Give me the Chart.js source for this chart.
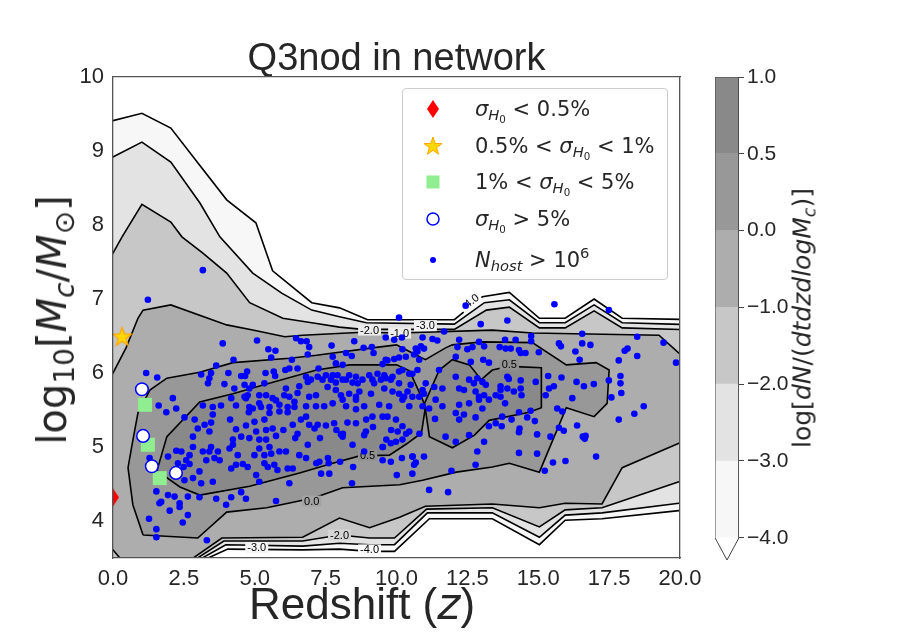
<!DOCTYPE html>
<html>
<head>
<meta charset="utf-8">
<title>Q3nod in network</title>
<script src="https://cdn.jsdelivr.net/npm/chart.js@4/dist/chart.umd.min.js"></script>
<style>
  html, body { margin:0; padding:0; background:#ffffff; }
  #wrap { position:relative; width:913px; height:640px; overflow:hidden; color:#262626; font-family:"Liberation Sans", Arial, sans-serif; }
  #mainCanvas { position:absolute; left:0; top:0; }
  #cbarCanvas { position:absolute; left:700px; top:0; }
  .lbl { position:absolute; white-space:nowrap; line-height:1; }
  #xlabel { left:362px; top:604px; transform:translate(-50%,-50%); font-size:44px; }
  #xlabel i { font-family:"DejaVu Sans", sans-serif; }
  #ylabel { left:52px; top:320px; transform:translate(-50%,-50%) rotate(-90deg); font-size:40px; font-family:"DejaVu Sans", sans-serif; }
  #cblabel { left:802px; top:318px; transform:translate(-50%,-50%) rotate(-90deg); font-size:25px; font-family:"DejaVu Sans", sans-serif; }
  .m sub { font-size:70%; vertical-align:-0.3em; line-height:0; }
  .m sup { font-size:70%; vertical-align:0.55em; line-height:0; }
  #legend { position:absolute; left:402px; top:88px; width:266px; height:192px; border:1px solid #cccccc; border-radius:4px; background:rgba(255,255,255,0.8); box-sizing:border-box; }
  .row { position:absolute; left:0; height:0; width:100%; }
  .row svg { position:absolute; left:19px; top:-11px; }
  .row .t { position:absolute; left:72px; top:0; transform:translateY(-50%); white-space:nowrap; font-family:"DejaVu Sans", sans-serif; font-size:21px; line-height:1; }
</style>
</head>
<body>
<div id="wrap">
  <canvas id="mainCanvas" width="793" height="640"></canvas>
  <canvas id="cbarCanvas" width="213" height="640"></canvas>
  <div id="xlabel" class="lbl">Redshift (<i>z</i>)</div>
  <div id="ylabel" class="lbl m">log<sub>10</sub>[<i>M</i><sub><i>c</i></sub>/<i>M</i><sub>⊙</sub>]</div>
  <div id="cblabel" class="lbl m">log[<i>dN</i>/(<i>dtdzdlogM</i><sub><i>c</i></sub>)]</div>
  <div id="legend">
    <div class="row" style="top:20px">
      <svg width="22" height="22"><polygon points="11,2 17,11 11,20 5,11" fill="#ff0000"/></svg>
      <span class="t m"><i>σ</i><sub><i>H</i><sub>0</sub></sub> &lt; 0.5%</span>
    </div>
    <div class="row" style="top:57px">
      <svg width="22" height="22"><polygon points="11,2 13.2,8.4 20,8.6 14.6,12.7 16.6,19.2 11,15.3 5.4,19.2 7.4,12.7 2,8.6 8.8,8.4" fill="#ffd700" stroke="#ffa500" stroke-width="1"/></svg>
      <span class="t m">0.5% &lt; <i>σ</i><sub><i>H</i><sub>0</sub></sub> &lt; 1%</span>
    </div>
    <div class="row" style="top:93px">
      <svg width="22" height="22"><rect x="4.5" y="4.5" width="13" height="13" fill="#90ee90"/></svg>
      <span class="t m">1% &lt; <i>σ</i><sub><i>H</i><sub>0</sub></sub> &lt; 5%</span>
    </div>
    <div class="row" style="top:130px">
      <svg width="22" height="22"><circle cx="11" cy="11" r="6" fill="#ffffff" stroke="#0000ff" stroke-width="1.5"/></svg>
      <span class="t m"><i>σ</i><sub><i>H</i><sub>0</sub></sub> &gt; 5%</span>
    </div>
    <div class="row" style="top:171px">
      <svg width="22" height="22"><circle cx="11" cy="11" r="3" fill="#0000ff"/></svg>
      <span class="t m"><i>N</i><sub><i>host</i></sub> &gt; 10<sup>6</sup></span>
    </div>
  </div>
</div>
<script>
// ---------------- ticks ----------------
const xTickValues = [0, 2.5, 5, 7.5, 10, 12.5, 15, 17.5, 20];
const xTickLabels = ['0.0','2.5','5.0','7.5','10.0','12.5','15.0','17.5','20.0'];
const yTickValues = [4, 5, 6, 7, 8, 9, 10];
const yTickLabels = ['4','5','6','7','8','9','10'];

// ---------------- colour levels ----------------
const cbLevels = [-4.0, -3.0, -2.0, -1.0, 0.0, 0.5, 1.0];
const bandColors = ['#f7f7f7','#e3e3e3','#c7c7c7','#adadad','#989898','#898989'];

// ---------------- contour boundaries  [redshift, log10 Mc] ----------------
const upperM4 = [[-0.63,9.38],[0,9.41],[1.02,9.51],[2.04,9.31],[2.99,8.84],[4.01,8.34],[5.04,8.03],[5.63,7.38],[7.01,6.95],[7.99,6.88],[8.98,6.72],[12.04,6.72],[13.03,7.03],[13.98,7.09],[15.04,6.74],[15.95,6.74],[16.97,7.00],[17.96,6.74],[20.67,6.72]];
const lowerM4 = [[-0.63,3.27],[3.06,3.27],[3.06,3.45],[4.05,3.62],[6.69,3.61],[7.99,3.62],[9.05,3.59],[9.93,3.59],[11.16,4.03],[13.38,4.03],[15.04,3.68],[15.95,4.01],[17.25,4.03],[19.96,4.14],[20.67,4.15]];
const upperM3 = [[-0.46,8.88],[0,8.92],[1.02,9.12],[2.04,8.85],[3.06,8.30],[3.77,7.84],[4.93,7.35],[5.95,7.08],[7.01,6.85],[7.99,6.76],[8.94,6.68],[12.04,6.66],[13.10,6.95],[13.98,6.99],[15.04,6.68],[15.95,6.68],[16.97,6.92],[17.96,6.68],[20.67,6.65]];
const lowerM3 = [[-0.63,3.27],[2.92,3.27],[2.92,3.45],[3.98,3.68],[6.69,3.66],[7.99,3.70],[9.05,3.68],[9.93,3.68],[11.09,4.11],[13.38,4.11],[15.04,3.78],[15.95,4.08],[17.25,4.11],[19.96,4.24],[20.67,4.27]];
const upperM2 = [[-0.46,7.39],[0,7.62],[0.32,7.84],[1.02,8.28],[2.04,8.04],[2.43,7.84],[3.17,7.62],[4.01,7.35],[4.82,6.95],[5.99,6.74],[7.01,6.68],[7.99,6.62],[8.80,6.59],[12.04,6.59],[13.17,6.85],[13.98,6.89],[15.04,6.61],[15.95,6.61],[16.97,6.84],[17.96,6.61],[20.67,6.58]];
const lowerM2 = [[-0.63,3.27],[2.78,3.27],[2.78,3.45],[3.91,3.73],[6.69,3.73],[7.99,3.81],[9.05,3.77],[9.93,3.77],[11.06,4.16],[13.38,4.18],[15.04,3.92],[15.95,4.15],[17.25,4.18],[19.96,4.53],[20.67,4.61]];
const upperM1 = [[-0.46,5.77],[0,6.00],[0.46,6.34],[0.88,6.74],[1.06,6.85],[2.04,6.92],[4.01,6.65],[4.93,6.58],[6.06,6.49],[6.69,6.51],[8.80,6.55],[10.11,6.54],[13.38,6.58],[14.79,6.54],[19.26,6.51],[19.96,6.27],[20.67,6.11]];
const lowerM1 = [[-0.63,3.74],[0,3.61],[0.35,3.45],[0.40,3.27],[2.60,3.27],[2.64,3.45],[3.84,3.77],[6.69,3.78],[7.99,4.04],[9.05,3.91],[10.11,4.05],[11.02,4.20],[13.38,4.23],[15.04,4.18],[15.95,4.24],[17.25,4.23],[17.96,4.72],[19.96,5.05],[20.67,5.16]];
const zeroContour = [[1.06,3.81],[0.70,4.22],[0.53,4.72],[0.70,5.09],[0.88,5.46],[1.30,5.77],[1.90,5.93],[3.06,6.01],[4.23,6.14],[6.23,6.20],[7.18,6.24],[9.15,6.34],[10.0,6.38],[10.35,6.31],[11.02,6.18],[11.73,6.34],[11.97,6.38],[13.03,6.42],[14.79,6.41],[15.99,6.11],[17.04,6.14],[17.50,6.04],[17.43,5.59],[16.97,5.41],[15.99,5.53],[15.04,4.66],[13.98,4.78],[13.38,4.73],[12.11,4.66],[10.92,4.55],[10.11,4.49],[8.10,4.45],[7.15,4.32],[6.69,4.28],[5.42,4.18],[4.01,4.12],[2.99,3.77],[1.06,3.81]];
const halfContourA = [[1.55,4.68],[1.90,5.14],[3.06,5.61],[4.23,5.72],[5.42,5.85],[7.18,6.04],[8.35,6.11],[10.0,6.11],[10.46,6.03],[10.92,5.64],[11.02,5.54],[10.88,5.19],[10.35,5.04],[9.75,4.89],[8.70,4.88],[7.75,4.78],[6.58,4.65],[4.82,4.47],[3.06,4.35],[2.36,4.46],[1.55,4.68]];
const halfContourB = [[10.99,5.59],[11.51,6.04],[11.97,6.18],[12.57,6.11],[12.99,5.91],[13.38,6.04],[13.98,6.09],[15.11,6.07],[15.11,5.53],[14.68,5.47],[13.27,5.36],[12.75,5.16],[11.97,4.99],[11.16,5.14],[10.99,5.59]];

// contour labels
const labelPos = [[12.60,6.96],[11.02,6.64],[10.11,6.54],[9.05,6.58],[13.98,6.11],[8.98,4.89],[7.01,4.27],[7.99,3.81],[5.07,3.64],[9.05,3.61]];
const labelText = ['-4.0','-3.0','-1.0','-2.0','0.5','0.5','0.0','-2.0','-3.0','-4.0'];
const labelRot = [-38,0,0,0,0,0,0,0,0,0];
const labelBg = ['#f9f9f9','#f2f2f2','#ececec','#ececec','#919191','#919191','#a3a3a3','#d5d5d5','#f4f4f4','#fafafa'];

// ---------------- H0 precision classes ----------------
const h0Below05 = [[0.0,4.32]];
const h0From05to1 = [[0.32,6.49]];
const h0From1to5 = [[1.13,5.57],[1.23,5.03],[1.65,4.58]];
const h0Above5 = [[1.02,5.78],[1.06,5.15],[1.37,4.74],[2.22,4.65]];

// ---------------- hosts N > 1e6 ----------------
const hostPoints = [
[3.17,7.39],[1.23,6.99],[3.87,6.40],[5.08,6.44],[5.48,6.32],[5.73,6.30],[5.58,6.21],[4.25,6.18],[6.46,6.47],[6.63,6.43],[1.17,6.00],[1.56,5.94],[3.64,6.10],[3.11,5.98],[3.46,6.00],[3.40,5.93],[4.07,6.00],[4.52,5.96],[4.73,6.02],[4.66,5.96],[5.38,6.00],[5.67,6.02],[5.72,5.96],[6.08,6.04],[6.22,6.06],[6.31,6.18],[6.51,6.06],[2.11,5.66],[1.61,5.56],[2.23,5.52],[3.17,5.56],[3.52,5.54],[3.81,5.56],[4.34,5.56],[4.17,5.66],[4.64,5.68],[4.75,5.70],[4.93,5.84],[4.81,5.79],[5.34,5.86],[5.16,5.70],[5.40,5.70],[5.63,5.66],[6.10,5.79],[6.04,5.70],[6.22,5.68],[6.16,5.54],[6.40,5.61],[6.51,5.73],[6.57,5.82],[3.35,5.86],[3.93,5.85],[4.28,5.79],[4.64,5.84],[4.69,5.66],[5.16,5.59],[4.81,5.54],[5.22,5.54],[5.52,5.54],[5.75,5.63],[5.87,5.57],[6.40,5.54],
[10.09,6.75],[12.44,6.91],[12.97,6.66],[11.68,6.56],[6.83,6.43],[8.51,6.43],[9.62,6.48],[9.92,6.45],[10.19,6.48],[10.92,6.48],[11.27,6.46],[11.44,6.44],[12.21,6.45],[12.91,6.42],[13.09,6.36],[6.92,6.35],[7.71,6.37],[8.22,6.27],[8.84,6.34],[9.13,6.35],[9.19,6.27],[10.21,6.32],[10.68,6.33],[10.74,6.29],[10.86,6.36],[10.97,6.33],[10.62,6.25],[12.15,6.35],[12.50,6.32],[12.68,6.35],[12.09,6.22],[6.87,6.25],[7.75,6.22],[8.42,6.23],[9.62,6.18],[9.92,6.19],[10.09,6.21],[10.33,6.22],[10.80,6.18],[7.86,6.13],[8.10,6.11],[9.51,6.12],[9.68,6.17],[7.25,6.06],[10.21,6.04],[10.45,5.99],[10.74,6.04],[11.50,6.04],[12.62,6.15],[13.06,6.18],[13.26,6.14],[6.81,5.95],[7.22,5.95],[7.51,5.97],[7.75,5.97],[7.92,5.97],[8.10,5.91],[8.33,5.97],[8.57,5.95],[9.04,5.97],[9.33,5.99],[9.57,5.97],[9.86,5.95],[10.09,6.02],[10.56,5.99],[8.63,5.86],[8.80,5.91],[9.15,5.91],[9.45,5.91],[9.62,5.93],[9.80,5.91],[6.87,5.88],[6.98,5.91],[7.39,5.91],[7.69,5.91],[7.86,5.87],[8.22,5.91],[8.45,5.87],[10.09,5.86],[10.50,5.84],[10.92,5.77],[11.03,5.86],[11.62,5.79],[12.09,5.95],[12.56,5.91],[12.73,5.86],[12.85,5.93],[13.03,5.88],[13.15,5.84],[6.92,5.68],[7.16,5.70],[7.57,5.81],[7.86,5.77],[8.04,5.70],[8.33,5.72],[8.57,5.68],[8.69,5.75],[9.10,5.72],[9.21,5.86],[9.57,5.79],[9.86,5.75],[10.09,5.72],[10.39,5.75],[10.56,5.68],[10.27,5.68],[10.80,5.68],[10.97,5.72],[11.33,5.81],[11.38,5.64],[12.21,5.79],[12.38,5.77],[12.79,5.75],[12.91,5.68],[13.09,5.70],[13.26,5.64],[6.81,5.55],[7.16,5.55],[7.45,5.55],[7.75,5.59],[8.10,5.64],[8.22,5.55],[8.57,5.64],[8.86,5.55],[9.39,5.57],[9.74,5.55],[10.21,5.64],[10.45,5.55],[10.92,5.55],[11.15,5.52],[11.62,5.55],[12.21,5.57],[12.56,5.59],[12.91,5.64],[13.03,5.52],
[15.57,6.93],[17.49,6.85],[13.91,6.71],[14.75,6.50],[14.75,6.43],[13.83,6.45],[14.20,6.45],[13.64,6.35],[13.85,6.33],[14.03,6.33],[14.32,6.31],[14.38,6.27],[14.55,6.27],[15.02,6.28],[15.73,6.40],[15.80,6.36],[16.55,6.53],[16.55,6.40],[16.84,6.38],[16.31,6.29],[16.46,6.18],[18.49,6.49],[19.42,6.41],[18.05,6.30],[18.15,6.33],[18.49,6.23],[17.84,6.17],[19.86,6.14],[13.91,5.95],[13.96,5.92],[14.38,5.90],[14.91,5.88],[15.35,5.96],[15.82,5.94],[15.55,5.82],[15.38,5.79],[13.67,5.82],[13.67,5.77],[13.91,5.79],[14.38,5.79],[14.41,5.70],[14.14,5.75],[13.50,5.70],[13.67,5.68],[13.83,5.59],[15.26,5.70],[16.20,5.66],[16.35,5.88],[16.61,5.82],[16.96,5.85],[17.49,5.90],[17.90,5.96],[17.90,5.86],[17.93,5.73],[17.58,5.67],[18.72,5.55],
[1.88,5.47],[2.88,5.37],[3.52,5.44],[4.13,5.37],[4.79,5.47],[4.93,5.52],[5.52,5.46],[5.87,5.48],[6.16,5.47],[2.52,5.40],[2.99,5.25],[3.23,5.30],[3.40,5.21],[2.82,5.14],[3.46,5.33],[4.34,5.24],[4.69,5.29],[4.99,5.34],[5.05,5.21],[5.34,5.37],[5.40,5.23],[5.63,5.25],[5.75,5.15],[6.01,5.23],[6.34,5.30],[6.63,5.37],[6.51,5.18],[6.43,5.12],[5.40,5.10],[4.52,5.14],[4.81,5.12],[5.16,5.10],[4.23,5.10],[5.52,5.00],[2.23,4.95],[2.41,4.94],[2.82,5.00],[2.70,4.89],[3.17,4.94],[3.46,5.00],[3.40,4.94],[3.70,4.94],[4.11,4.98],[4.23,5.03],[4.40,4.89],[5.16,4.98],[5.34,4.89],[5.58,4.91],[5.87,4.94],[6.10,4.94],[6.57,4.89],[1.94,4.87],[2.58,4.82],[2.70,4.77],[2.49,4.73],[2.29,4.78],[3.05,4.67],[3.29,4.82],[3.58,4.85],[3.76,4.82],[4.17,4.71],[4.34,4.76],[4.58,4.77],[4.75,4.73],[4.99,4.89],[5.34,4.78],[5.46,4.73],[5.69,4.76],[5.80,4.69],[6.16,4.71],[6.34,4.71],[5.05,4.62],[5.16,4.53],[6.22,4.51],[1.29,4.85],[2.52,4.55],[2.82,4.58],[3.11,4.51],[3.52,4.53],[1.53,4.40],[1.94,4.35],[2.17,4.33],[2.35,4.24],[2.35,4.19],[1.70,4.26],[1.64,4.24],[2.64,4.33],[3.05,4.32],[3.64,4.30],[3.99,4.22],[4.17,4.32],[4.52,4.39],[4.69,4.30],[5.75,4.27],[2.64,4.08],[2.46,3.98],[2.00,4.14],[1.27,4.03],[1.53,3.89],[1.53,3.78],[3.31,3.74],
[8.57,5.51],[9.68,5.41],[12.09,5.46],[12.38,5.44],[12.79,5.40],[6.81,5.41],[7.80,5.32],[8.27,5.33],[8.57,5.32],[8.92,5.21],[8.86,5.16],[9.15,5.41],[9.51,5.41],[9.98,5.37],[10.21,5.28],[10.04,5.21],[10.21,5.10],[10.45,5.21],[9.80,5.05],[9.51,5.00],[6.92,5.30],[7.22,5.30],[7.51,5.29],[7.30,5.12],[6.87,5.03],[8.04,5.17],[8.10,5.14],[8.45,5.03],[8.86,4.94],[9.51,4.82],[9.80,4.80],[9.98,5.07],[6.81,4.85],[7.28,4.80],[7.61,4.78],[7.34,4.64],[7.63,4.64],[8.47,4.73],[8.43,4.51],[10.01,4.62],[10.19,4.85],[10.56,4.87],[10.68,4.79],[10.62,4.76],[10.56,4.64],[10.97,4.87],[11.15,4.42],[11.82,4.39],[11.94,4.68],[12.79,4.76],[12.85,4.94],[12.09,5.07],[11.36,5.38],[11.73,5.14],[12.21,5.37],[12.56,5.16],[13.26,5.28],[13.09,5.07],
[13.73,5.41],[14.32,5.47],[14.73,5.49],[15.67,5.52],[15.85,5.48],[18.39,5.45],[17.84,5.37],[13.50,5.32],[13.71,5.28],[14.06,5.37],[14.34,5.25],[14.32,5.20],[14.61,5.40],[14.88,5.35],[14.96,5.17],[15.43,5.14],[15.73,5.26],[15.90,5.22],[16.37,5.29],[16.57,5.14],[16.67,5.15],[16.64,5.11],[17.04,4.87],[14.32,4.92],[14.96,4.91],[15.52,4.79],[15.96,4.81],[15.23,4.68],
[7.11,5.25],[7.88,5.23],[8.11,5.18],[8.93,5.37],[9.17,5.27],[9.64,5.10],[9.81,5.23],[10.34,5.18],[10.81,5.18],[7.17,4.78],[7.58,4.85],[8.01,4.80],[9.52,5.00],[10.57,4.87]
];

// ---------------- helpers ----------------
const FONT = '"Liberation Sans", Arial, sans-serif';
const INK = '#262626';
const SPINE = '#555555';
const toXY = a => a.map(p => ({x: p[0], y: p[1]}));
const band = (upper, lower) => upper.concat(lower.slice().reverse(), [upper[0]]);

function makeStar() {
  const c = document.createElement('canvas'); c.width = 24; c.height = 24;
  const g = c.getContext('2d'); g.beginPath();
  for (let i = 0; i < 10; i++) {
    const r = i % 2 === 0 ? 10 : 4, a = -Math.PI / 2 + i * Math.PI / 5;
    const px = 12 + r * Math.cos(a), py = 12.5 + r * Math.sin(a);
    i ? g.lineTo(px, py) : g.moveTo(px, py);
  }
  g.closePath(); g.fillStyle = '#ffd700'; g.fill(); g.lineWidth = 1.2; g.strokeStyle = '#ffa500'; g.stroke();
  return c;
}
function makeThinDiamond() {
  const c = document.createElement('canvas'); c.width = 14; c.height = 20;
  const g = c.getContext('2d'); g.beginPath();
  g.moveTo(7, 1); g.lineTo(13, 10); g.lineTo(7, 19); g.lineTo(1, 10); g.closePath();
  g.fillStyle = '#ff0000'; g.fill();
  return c;
}

// ---------------- main chart ----------------
const regions = [
  {pts: band(upperM4, lowerM4), c: 0},
  {pts: band(upperM3, lowerM3), c: 1},
  {pts: band(upperM2, lowerM2), c: 2},
  {pts: band(upperM1, lowerM1), c: 3},
  {pts: zeroContour, c: 4},
  {pts: halfContourA, c: 5},
  {pts: halfContourB, c: 5}
];
const datasets = regions.map((r, i) => ({
  label: 'level ' + cbLevels[r.c],
  data: toXY(r.pts), showLine: true, fill: 'shape', tension: 0,
  backgroundColor: bandColors[r.c], borderColor: '#000000', borderWidth: 1.6,
  pointRadius: 0, pointHoverRadius: 0, order: 100 - i, clip: 0
}));
datasets.push({ id: 'host', label: 'N_host > 1e6', data: toXY(hostPoints), pointStyle: 'circle', pointRadius: 3.3,
  backgroundColor: '#0000ff', borderWidth: 0, order: 10, clip: 0 });
datasets.push({ label: 'sigma 1-5%', data: toXY(h0From1to5), pointStyle: 'rect', pointRadius: 9.9,
  backgroundColor: '#90ee90', borderWidth: 0, order: 9, clip: 0 });
datasets.push({ label: 'sigma > 5%', data: toXY(h0Above5), pointStyle: 'circle', pointRadius: 6.3,
  backgroundColor: '#ffffff', borderColor: '#0000ff', borderWidth: 1.5, order: 8, clip: 0 });
datasets.push({ label: 'sigma 0.5-1%', data: toXY(h0From05to1), pointStyle: makeStar(), pointRadius: 10,
  order: 7, clip: 0 });
datasets.push({ label: 'sigma < 0.5%', data: toXY(h0Below05), pointStyle: makeThinDiamond(), pointRadius: 10,
  order: 6, clip: 0 });

const contourLabels = {
  id: 'contourLabels',
  beforeDatasetDraw(chart, args) {
    const ds = chart.data.datasets[args.index];
    if (ds.id !== 'host') return;
    const {ctx, scales: {x, y}} = chart;
    ctx.save();
    ctx.font = '11px ' + FONT;
    ctx.textAlign = 'center'; ctx.textBaseline = 'middle';
    labelPos.forEach((p, i) => {
      const px = x.getPixelForValue(p[0]), py = y.getPixelForValue(p[1]);
      ctx.save(); ctx.translate(px, py); ctx.rotate(labelRot[i] * Math.PI / 180);
      const w = ctx.measureText(labelText[i]).width;
      ctx.fillStyle = labelBg[i]; ctx.fillRect(-w / 2 - 2, -5.5, w + 4, 11);
      ctx.fillStyle = '#000000'; ctx.fillText(labelText[i], 0, 0.5);
      ctx.restore();
    });
    ctx.restore();
  }
};

new Chart(document.getElementById('mainCanvas'), {
  type: 'scatter',
  data: { datasets },
  plugins: [contourLabels],
  options: {
    responsive: false, animation: false, events: [],
    layout: { padding: 0 },
    plugins: {
      legend: { display: false }, tooltip: { enabled: false },
      title: { display: true, text: 'Q3nod in network', color: INK,
        font: { family: FONT, size: 38, weight: 'normal', lineHeight: 0.8 },
        padding: { top: 44, bottom: 2.6 } }
    },
    scales: {
      x: { type: 'linear', position: 'bottom', min: 0, max: 20,
        afterFit: s => { s.height = 82; },
        afterBuildTicks: s => { s.ticks = xTickValues.map(v => ({value: v})); },
        ticks: { callback: (v, i) => xTickLabels[i], color: INK, padding: 8, maxRotation: 0, autoSkip: false,
          font: { family: FONT, size: 22 } },
        grid: { display: false, drawTicks: false },
        border: { display: true, color: SPINE, width: 1.3, z: 1 } },
      y: { type: 'linear', position: 'left', min: 3.5, max: 10,
        afterFit: s => { s.width = 113; },
        afterBuildTicks: s => { s.ticks = yTickValues.map(v => ({value: v})); },
        ticks: { callback: (v, i) => yTickLabels[i], color: INK, padding: 9, autoSkip: false,
          font: { family: FONT, size: 22 } },
        grid: { display: false, drawTicks: false },
        border: { display: true, color: SPINE, width: 1.3, z: 1 } },
      xTop: { type: 'linear', position: 'top', min: 0, max: 20,
        afterFit: s => { s.height = 0; },
        ticks: { display: false }, grid: { display: false, drawTicks: false },
        border: { display: true, color: SPINE, width: 1.3, z: 1 } },
      yRight: { type: 'linear', position: 'right', min: 3.5, max: 10,
        afterFit: s => { s.width = 113; },
        ticks: { display: false }, grid: { display: false, drawTicks: false },
        border: { display: true, color: SPINE, width: 1.3, z: 1 } }
    }
  }
});

// ---------------- colour bar ----------------
const cbDatasets = cbLevels.slice(0, -1).map((lv, i) => ({
  label: 'band ' + lv,
  data: [{x:0,y:i},{x:1,y:i},{x:1,y:i+1},{x:0,y:i+1},{x:0,y:i}],
  showLine: true, fill: 'shape', backgroundColor: bandColors[i], borderColor: bandColors[i], borderWidth: 0.6,
  pointRadius: 0, order: 5
}));
cbDatasets.push({ label: 'under', data: [{x:0,y:0},{x:1,y:0},{x:0.5,y:-0.29},{x:0,y:0}],
  showLine: true, fill: 'shape', backgroundColor: '#ffffff', borderColor: '#ffffff', borderWidth: 0.6, pointRadius: 0, order: 4 });
cbDatasets.push({ label: 'outline', data: [{x:0,y:0},{x:0,y:6},{x:1,y:6},{x:1,y:0},{x:0.5,y:-0.29},{x:0,y:0}],
  showLine: true, fill: false, borderColor: '#444444', borderWidth: 1, pointRadius: 0, order: 1 });

new Chart(document.getElementById('cbarCanvas'), {
  type: 'scatter',
  data: { datasets: cbDatasets },
  options: {
    responsive: false, animation: false, events: [],
    layout: { padding: { left: 15, top: 77, bottom: 80, right: 0 } },
    plugins: { legend: { display: false }, tooltip: { enabled: false } },
    scales: {
      x: { type: 'linear', display: false, min: 0, max: 1 },
      y: { type: 'linear', position: 'right', min: -0.29, max: 6,
        afterFit: s => { s.width = 174; },
        afterBuildTicks: s => { s.ticks = cbLevels.map((v, i) => ({value: i})); },
        ticks: { callback: (v, i) => cbLevels[i].toFixed(1).replace('-', '\u2212'), color: INK, padding: 3, autoSkip: false,
          font: { family: FONT, size: 21 } },
        grid: { display: true, drawOnChartArea: false, drawTicks: true, tickLength: 5, color: '#444444', lineWidth: 1 },
        border: { display: false } }
    }
  }
});
</script>
</body>
</html>
